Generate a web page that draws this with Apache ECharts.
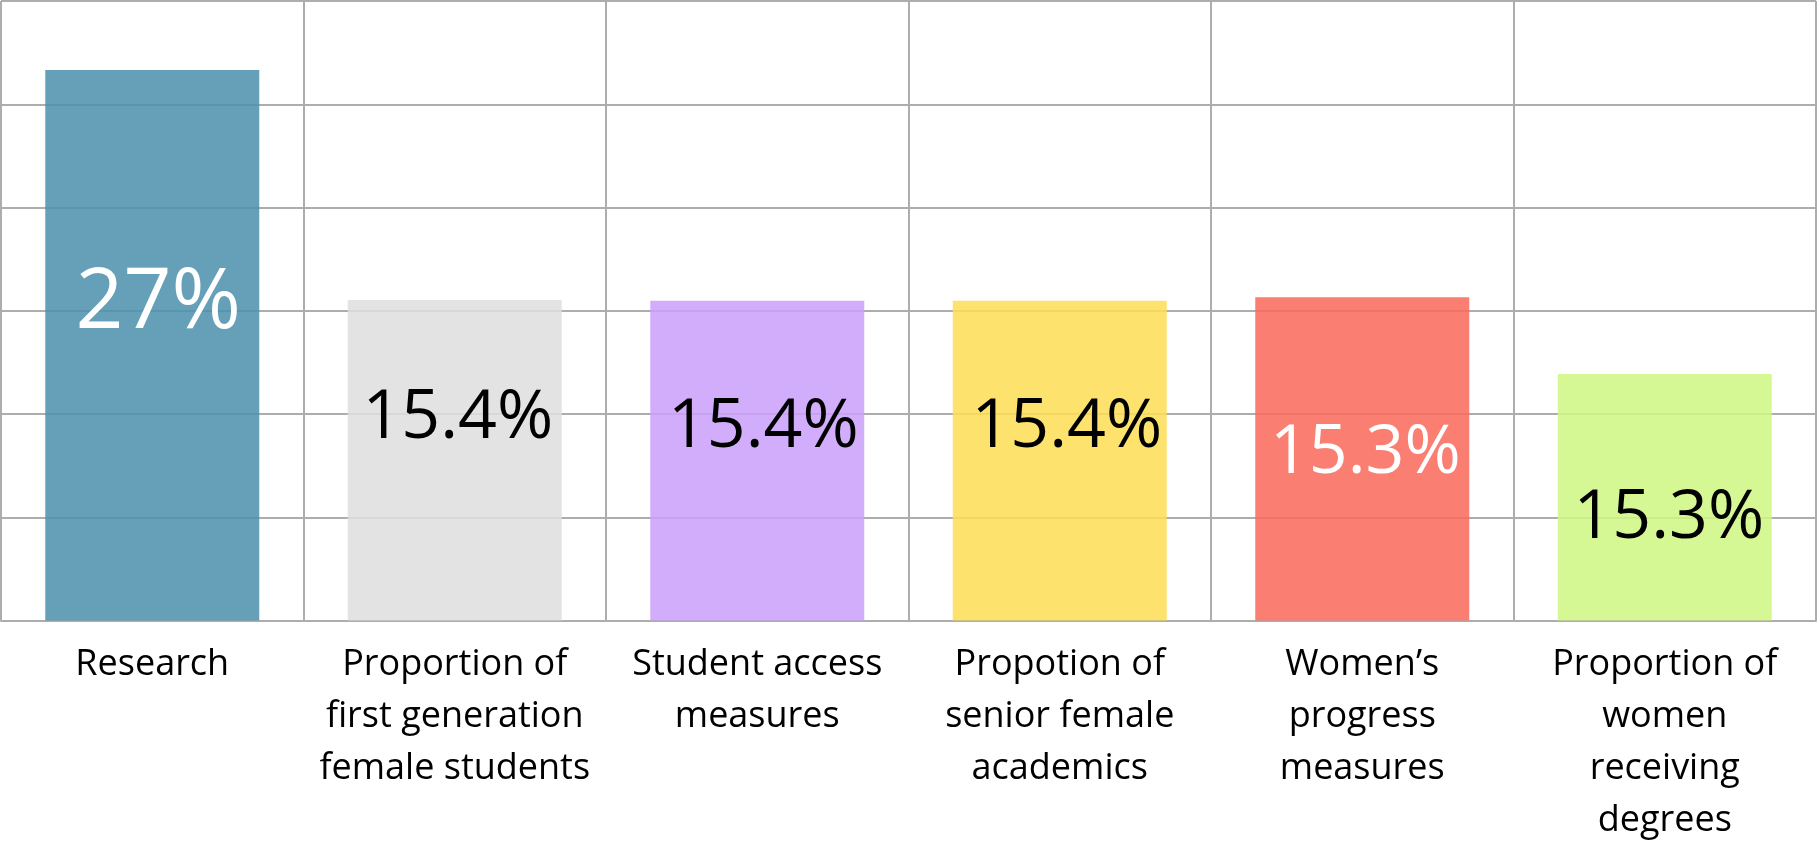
<!DOCTYPE html>
<html>
<head>
<meta charset="utf-8">
<script src="https://cdn.jsdelivr.net/npm/echarts@6/dist/echarts.min.js"></script>
<style>
  html, body { margin: 0; padding: 0; background: #ffffff; }
  #chart { width: 1817px; height: 850px; }
</style>
</head>
<body>
<div id="chart"></div>
<script>
// ---- data ----
const categories = [
  "Research",
  "Proportion of\nfirst generation\nfemale students",
  "Student access\nmeasures",
  "Propotion of\nsenior female\nacademics",
  "Women\u2019s\nprogress\nmeasures",
  "Proportion of\nwomen\nreceiving\ndegrees"
];
const barHeights = [26.66, 15.52, 15.49, 15.49, 15.65, 11.94];
const valueLabels = ["27%", "15.4%", "15.4%", "15.4%", "15.3%", "15.3%"];
const yTicks = [0, 5, 10, 15, 20, 25, 30];

// ---- styles ----
const barColors = [
  "rgba(78,146,173,0.87)", "rgba(223,223,223,0.87)", "rgba(202,161,250,0.87)",
  "rgba(253,222,89,0.87)", "rgba(249,108,93,0.87)", "rgba(207,246,132,0.87)"
];
const labelColors = ["#ffffff", "#000000", "#000000", "#000000", "#ffffff", "#000000"];
const labelSizes = [84, 68, 68, 68, 68, 68];
const labelOffsets = [[6, -41], [3, -41.5], [6, -33], [7, -33], [3, -5], [4, 21]];
const FONT = "'Open Sans', 'Noto Sans', sans-serif";

const chart = echarts.init(document.getElementById('chart'), null, { renderer: 'canvas' });

const seriesData = barHeights.map((v, i) => ({
  value: v,
  itemStyle: { color: barColors[i] },
  label: {
    show: true,
    position: 'inside',
    formatter: valueLabels[i],
    color: labelColors[i],
    fontSize: labelSizes[i],
    fontFamily: FONT,
    offset: labelOffsets[i]
  }
}));

chart.setOption({
  animation: false,
  backgroundColor: '#ffffff',
  grid: { left: 1, right: 1, top: 1, height: 619.5, containLabel: false },
  xAxis: {
    type: 'category',
    data: categories,
    boundaryGap: true,
    axisLine: { show: true, lineStyle: { color: '#adadad', width: 2 } },
    axisTick: { show: false },
    splitLine: { show: true, interval: 0, lineStyle: { color: '#adadad', width: 2 } },
    axisLabel: {
      interval: 0,
      color: '#000000',
      fontFamily: FONT,
      fontSize: 36,
      lineHeight: 52,
      margin: 18,
      align: 'center'
    }
  },
  yAxis: {
    type: 'value',
    min: yTicks[0],
    max: yTicks[yTicks.length - 1],
    interval: yTicks[1] - yTicks[0],
    axisLine: { show: false },
    axisTick: { show: false },
    axisLabel: { show: false },
    splitLine: { show: true, lineStyle: { color: '#adadad', width: 2 } }
  },
  series: [{
    type: 'bar',
    data: seriesData,
    barWidth: 214,
    z: 3
  }]
});
</script>
</body>
</html>
